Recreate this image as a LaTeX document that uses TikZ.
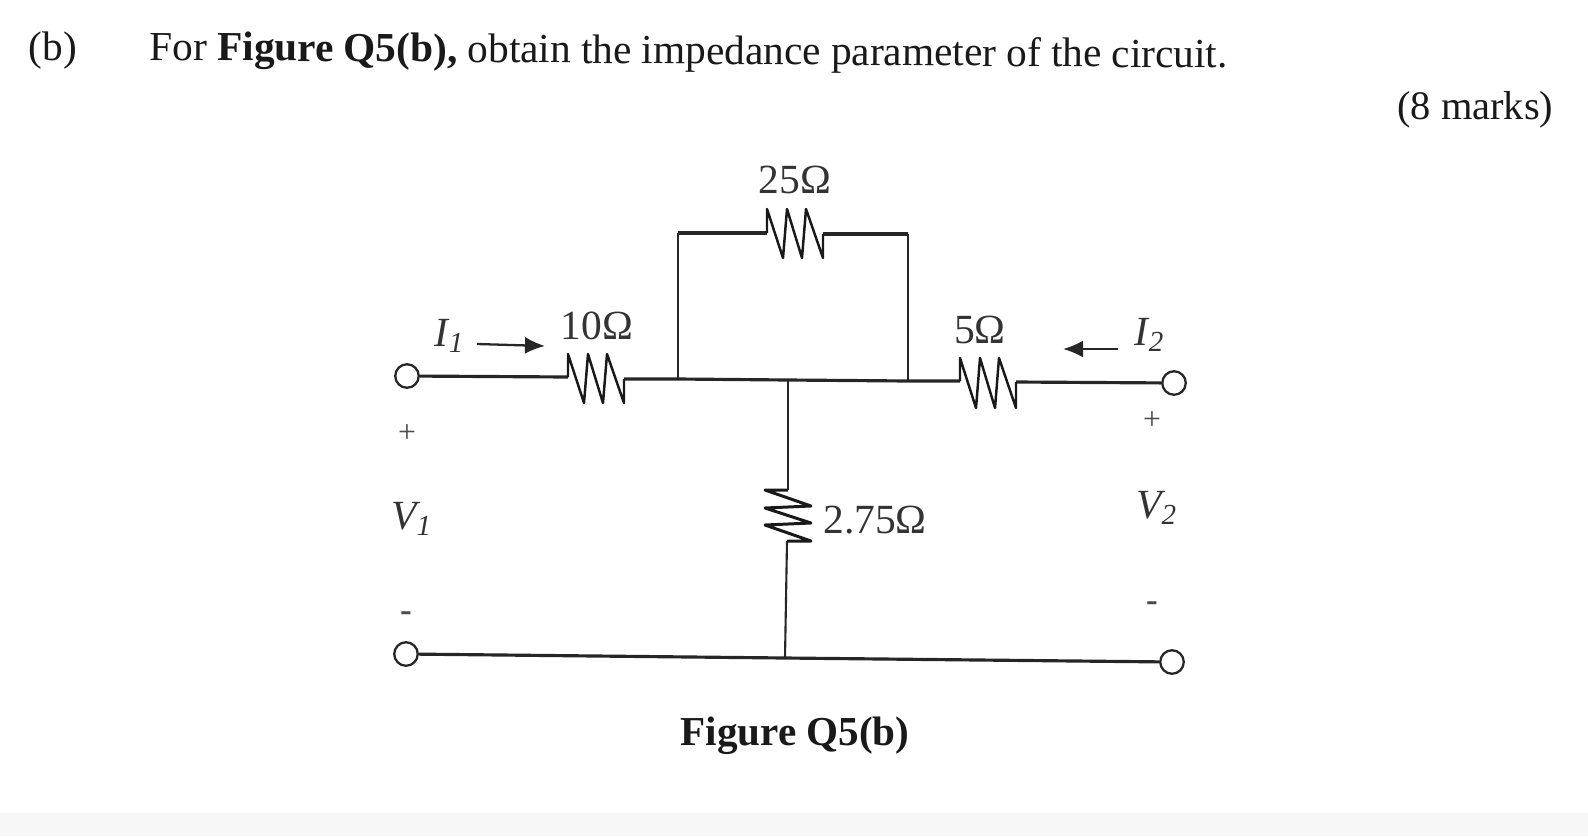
\documentclass[tikz,border=0pt]{standalone}
\usepackage{fontspec}
\setmainfont{Liberation Serif}
\usetikzlibrary{arrows.meta}

\tikzset{
    wire/.style={line width=0.9pt, black!85},
    thinwire/.style={line width=0.6pt, black!85},
    zig/.style={line width=0.7pt, black!90, line join=round},
    term/.style={circle, draw=black!85, line width=0.65pt, fill=white, inner sep=0pt, minimum size=0.235cm},
    big/.style={font=\fontsize{11.74}{14}\selectfont, text=black!90, inner sep=0pt},
    val/.style={font=\fontsize{11.8}{13}\selectfont, text=black!80, inner sep=0pt},
    sgn/.style={font=\fontsize{9}{10}\selectfont, text=black!70, inner sep=0pt},
    cur/.style={line width=0.65pt, black!85, -{Latex[length=0.2cm,width=0.17cm]}}
}

\begin{document}
\begin{tikzpicture}[x=0.01cm,y=-0.01cm]

\useasboundingbox (0,0) rectangle (1588,836);
\fill[black!3] (0,813) rectangle (1588,836);

% question text
\node[big, anchor=base west] (part) at (28,60) {(b)};
\node[big, anchor=base west, rotate=-0.42] (ask) at (149,60) {For \textbf{Figure Q5(b),} obtain the impedance parameter of the circuit.};
\node[big, anchor=base east, font=\fontsize{11.5}{14}\selectfont] (marks) at (1554,119) {(8 marks)};

% terminals
\node[term] (t1) at (407,376) {};
\node[term] (t2) at (1174,383) {};
\node[term] (t3) at (406,654) {};
\node[term] (t4) at (1172,662) {};

\coordinate (jl) at (678,379);
\coordinate (jc) at (788,380);
\coordinate (jr) at (908,381);
\coordinate (jb) at (785,658);
\coordinate (tl) at (678,233);
\coordinate (tr) at (908,234);

\coordinate (r10a) at (568,377);
\coordinate (r10b) at (624,379);
\coordinate (r25a) at (767,233);
\coordinate (r25b) at (823,234);
\coordinate (r5a) at (960,381);
\coordinate (r5b) at (1016,382);
\coordinate (r275a) at (788,490);
\coordinate (r275b) at (787,541);

% wires
\draw[wire] (t1) -- (r10a);
\draw[wire] (r10b) -- (jl) -- (jc) -- (jr) -- (r5a);
\draw[wire] (r5b) -- (t2);
\draw[wire] (tl) -- (r25a);
\draw[wire] (r25b) -- (tr);
\draw[wire] (t3) -- (jb) -- (t4);
\draw[thinwire] (jl) -- (tl);
\draw[thinwire] (tr) -- (jr);
\draw[thinwire] (jc) -- (r275a);
\draw[thinwire] (r275b) -- (jb);

% resistors
\draw[zig] (r10a) -- ++(0,-23) -- ++(16,49) -- ++(4,-49) -- ++(15,49) -- ++(4,-49) -- ++(17,49) -- (r10b);
\draw[zig] (r25a) -- ++(0,-24) -- ++(16,49) -- ++(4,-49) -- ++(15,49) -- ++(4,-49) -- ++(17,49) -- (r25b);
\draw[zig] (r5a) -- ++(0,-23) -- ++(16,50) -- ++(4,-50) -- ++(15,50) -- ++(4,-50) -- ++(17,50) -- (r5b);
\draw[zig, line width=0.85pt] (r275a) -- (765,490) -- (811,506) -- (765,508) -- (811,523) -- (765,525) -- (811,541) -- (r275b);

% values
\node[val] (v25) at (795,180) {25Ω};
\node[val] (v10) at (597,326) {10Ω};
\node[val] (v5) at (980,330) {5Ω};
\node[val] (v275) at (875,520) {2.75Ω};

% currents
\node[val] (i1) at (450,336) {\textit{I\textsubscript{1}}};
\node[val] (i2) at (1150,335) {\textit{I\textsubscript{2}}};
\coordinate (a1) at (477,344);
\coordinate (a2) at (545,346);
\coordinate (a3) at (1118,349);
\coordinate (a4) at (1063,349);
\draw[cur] (a1) -- (a2);
\draw[cur] (a3) -- (a4);

% port voltages
\node[sgn] (p1) at (407,434) {+};
\node[sgn] (p2) at (1152,421) {+};
\node[val] (u1) at (412,519) {\textit{V\textsubscript{1}}};
\node[val] (u2) at (1157,508) {\textit{V\textsubscript{2}}};
\node[sgn, font=\fontsize{10}{11}\selectfont\bfseries] (m1) at (406,617) {-};
\node[sgn, font=\fontsize{10}{11}\selectfont\bfseries] (m2) at (1152,607) {-};

\node[big, font=\fontsize{11.7}{14}\selectfont\bfseries] (cap) at (795,736) {Figure Q5(b)};

\end{tikzpicture}
\end{document}
